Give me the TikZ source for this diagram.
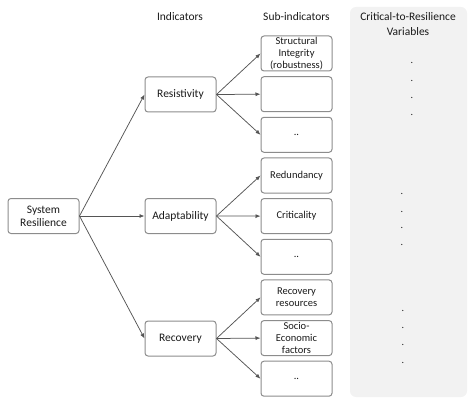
\documentclass[tikz,border=0pt]{standalone}
\usepackage{fontspec}
\setmainfont{Carlito}
\usetikzlibrary{arrows.meta}
\definecolor{boxgray}{HTML}{8C8C8C}
\definecolor{linegray}{HTML}{555555}
\definecolor{panel}{HTML}{F2F2F2}
\definecolor{txt}{HTML}{1A1A1A}
\begin{document}
\begin{tikzpicture}[x=1pt,y=-1pt,
 box/.style={draw=boxgray,line width=1pt,rounded corners=3pt,minimum width=71pt,minimum height=35pt,align=center,font=\fontsize{11.5}{13}\selectfont,inner sep=1pt,fill=white,text=txt},
 sub/.style={box,font=\fontsize{10.5}{12}\selectfont},
 conn/.style={draw=linegray,line width=0.75pt,-{Latex[length=5pt,width=4pt]}},
 hdr/.style={font=\fontsize{11.5}{15}\selectfont,align=center,text=txt},
 dotn/.style={anchor=base,inner sep=0pt,font=\fontsize{10}{10}\selectfont,text=txt}]
\useasboundingbox (0,0) rectangle (474,401);
\fill[panel,rounded corners=6pt] (350,7) rectangle (467,397);
% headers
\node[hdr] (h1) at (180,17) {Indicators};
\node[hdr] (h2) at (296.5,17) {Sub-indicators};
\node[hdr] (h3) at (408,24.5) {Critical-to-Resilience\\Variables};
% main nodes
\node[box] (sr) at (43.5,216) {System\\Resilience};
\node[box] (res) at (180.5,94.5) {Resistivity};
\node[box] (ada) at (180.5,216) {Adaptability};
\node[box] (rec) at (180.5,338.5) {Recovery};
% sub nodes
\node[sub] (s1) at (296.5,53.5) {Structural\\Integrity\\(robustness)};
\node[sub] (s2) at (296.5,94.2) {};
\node[sub] (s3) at (296.5,134.8) {..};
\node[sub] (s4) at (296.5,175.5) {Redundancy};
\node[sub] (s5) at (296.5,216.1) {Criticality};
\node[sub] (s6) at (296.5,256.8) {..};
\node[sub] (s7) at (296.5,297.4) {Recovery\\resources};
\node[sub] (s8) at (296.5,338.1) {Socio-\\Economic\\factors};
\node[sub] (s9) at (296.5,378.7) {..};
% connectors
\draw[conn] (sr.east) -- (res.west);
\draw[conn] (sr.east) -- (ada.west);
\draw[conn] (sr.east) -- (rec.west);
\foreach \a/\b in {res/s1,res/s2,res/s3,ada/s4,ada/s5,ada/s6,rec/s7,rec/s8,rec/s9}
  \draw[conn] (\a.east) -- (\b.west);
% dots
\foreach \x/\y [count=\i] in {412/63,412/81,412/98,412/115,402/193,402/211,402/227,402/244,403/310,403/327,403/344,403/362}
  \node[dotn] (d\i) at (\x,\y+1) {.};
\end{tikzpicture}
\end{document}
